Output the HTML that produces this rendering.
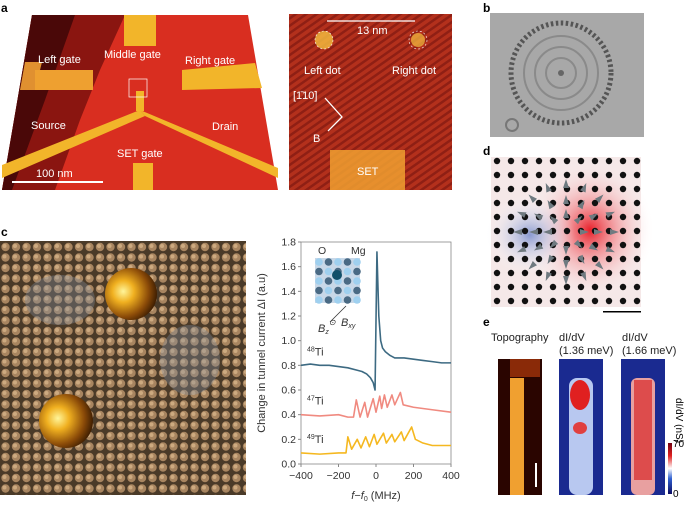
<!DOCTYPE html>
<html><head><meta charset="utf-8">
<style>
html,body{margin:0;padding:0;background:#fff;}
body{width:685px;height:507px;position:relative;overflow:hidden;font-family:"Liberation Sans",sans-serif;}
svg text{font-family:"Liberation Sans",sans-serif;}
</style></head>
<body>
<svg id="fig" width="685" height="507" viewBox="0 0 685 507" xmlns="http://www.w3.org/2000/svg">
<defs>
 <pattern id="stripes" width="6" height="6" patternUnits="userSpaceOnUse" patternTransform="rotate(-35)">
  <rect width="6" height="6" fill="#b3301c"/><rect width="6" height="2.5" fill="#8f1f14"/>
 </pattern>
 <pattern id="atoms" width="10.5" height="10.5" patternUnits="userSpaceOnUse">
  <rect width="10.5" height="10.5" fill="#4a3a28"/>
  <circle cx="5.5" cy="5.5" r="4.2" fill="#a88560"/>
  <circle cx="4.5" cy="4.5" r="2" fill="#cdaa80"/>
 </pattern>
 <pattern id="dots" width="14" height="14" patternUnits="userSpaceOnUse">
  <circle cx="7" cy="7" r="3.2" fill="#111"/>
 </pattern>
 <radialGradient id="sph" cx="0.35" cy="0.45" r="0.7">
  <stop offset="0" stop-color="#fff59a"/><stop offset="0.3" stop-color="#f0b020"/><stop offset="0.7" stop-color="#8a4a08"/><stop offset="1" stop-color="#2a1200"/>
 </radialGradient>
 <radialGradient id="redblob" cx="0.5" cy="0.5" r="0.5">
  <stop offset="0" stop-color="#e8202a"/><stop offset="1" stop-color="#fff" stop-opacity="0"/>
 </radialGradient>
 <radialGradient id="blueblob" cx="0.5" cy="0.5" r="0.5">
  <stop offset="0" stop-color="#8a9ad0"/><stop offset="1" stop-color="#fff" stop-opacity="0"/>
 </radialGradient>
 <linearGradient id="cbar" x1="0" y1="1" x2="0" y2="0">
  <stop offset="0" stop-color="#0a0a60"/><stop offset="0.3" stop-color="#3060d0"/><stop offset="0.5" stop-color="#ffffff"/><stop offset="0.75" stop-color="#e02020"/><stop offset="1" stop-color="#700010"/>
 </linearGradient>
</defs>

<!-- panel a left -->
<g>
 <text x="1" y="12" font-size="12" font-weight="bold">a</text>
 <polygon points="32,15 248,15 278,190 2,190" fill="#d92e20"/>
 <polygon points="32,15 125,15 100,70 80,120 55,190 2,190" fill="#8a1510"/>
 <polygon points="32,15 75,15 45,100 12,190 2,190" fill="#4a0808"/>
 <rect x="124" y="15" width="32" height="31" fill="#f2b52a"/>
 <polygon points="25,62 42,62 35,90 20,90" fill="#e09030"/>
 <rect x="35" y="70" width="58" height="20" fill="#eea030"/>
 <polygon points="182,70 255,63 262,88 182,90" fill="#f2b52a"/>
 <rect x="136" y="91" width="8" height="20" fill="#f2b52a"/>
 <polygon points="2,165 140,110 145,116 2,178" fill="#f2b52a"/>
 <polygon points="140,110 278,168 278,178 145,116" fill="#f2b52a"/>
 <rect x="133" y="163" width="20" height="27" fill="#f2b52a"/>
 <rect x="129" y="79" width="18" height="18" fill="none" stroke="#fff" stroke-width="0.7"/>
 <g fill="#fff" font-size="11">
  <text x="38" y="63">Left gate</text><text x="104" y="58">Middle gate</text>
  <text x="185" y="64">Right gate</text><text x="31" y="129">Source</text>
  <text x="212" y="130">Drain</text><text x="117" y="157">SET gate</text>
  <text x="36" y="177">100 nm</text>
 </g>
 <rect x="12" y="181" width="91" height="2" fill="#fff"/>
</g>

<!-- panel a right -->
<g>
 <rect x="289" y="14" width="163" height="176" fill="url(#stripes)"/>
 <rect x="330" y="150" width="75" height="40" fill="#f0a030" opacity="0.85"/>
 <circle cx="324" cy="40" r="9" fill="#f6c040" opacity="0.8"/>
 <circle cx="418" cy="40" r="7" fill="#f6c040" opacity="0.7"/>
 <circle cx="324" cy="40" r="9" fill="none" stroke="#fff" stroke-dasharray="2,2" stroke-width="0.6"/>
 <circle cx="418" cy="40" r="9" fill="none" stroke="#fff" stroke-dasharray="2,2" stroke-width="0.6"/>
 <line x1="327" y1="21" x2="415" y2="21" stroke="#fff" stroke-width="1.2"/>
 <g fill="#fff" font-size="11">
  <text x="357" y="34">13 nm</text><text x="304" y="74">Left dot</text>
  <text x="392" y="74">Right dot</text><text x="293" y="99">[1̄10]</text>
  <text x="313" y="142">B</text><text x="357" y="175">SET</text>
 </g>
 <polyline points="325,98 342,117 328,131" fill="none" stroke="#fff" stroke-width="1.3"/>
</g>

<!-- panel b -->
<g>
 <text x="483" y="12" font-size="12" font-weight="bold">b</text>
 <rect x="490" y="13" width="154" height="124" fill="#a8a8a8"/>
 <circle cx="561" cy="73" r="50" fill="none" stroke="#555" stroke-width="5" stroke-dasharray="2.5,2.5"/>
 <circle cx="561" cy="73" r="37" fill="none" stroke="#8a8a8a" stroke-width="2"/>
 <circle cx="561" cy="73" r="26" fill="none" stroke="#8a8a8a" stroke-width="2"/>
 <circle cx="561" cy="73" r="15" fill="none" stroke="#8a8a8a" stroke-width="2"/>
 <circle cx="561" cy="73" r="3" fill="#666"/>
 <circle cx="512" cy="125" r="6" fill="none" stroke="#777" stroke-width="2"/>
</g>

<!-- panel d -->
<g>
 <text x="483" y="155" font-size="12" font-weight="bold">d</text>
 <rect x="491" y="157" width="150" height="150" fill="#f5e8e8"/>
 <ellipse cx="590" cy="230" rx="65" ry="70" fill="url(#redblob)"/>
 <ellipse cx="530" cy="235" rx="45" ry="40" fill="url(#blueblob)"/>
 <rect x="491" y="157" width="150" height="150" fill="url(#dots)"/>
 <g id="cones" fill="#6f7a80"></g>
 <rect x="603" y="311" width="38" height="1.5" fill="#000"/>
</g>

<!-- panel c image -->
<g>
 <text x="1" y="236" font-size="12" font-weight="bold">c</text>
 <rect x="0" y="241" width="246" height="254" fill="url(#atoms)"/>
 <ellipse cx="60" cy="300" rx="35" ry="25" fill="#8090a0" opacity="0.35"/>
 <ellipse cx="190" cy="360" rx="30" ry="35" fill="#8090a0" opacity="0.35"/>
 <circle cx="131" cy="294" r="26" fill="url(#sph)"/>
 <circle cx="66" cy="421" r="27" fill="url(#sph)"/>
</g>

<!-- panel c chart -->
<g id="chart"></g>

<!-- panel e -->
<g>
 <text x="483" y="326" font-size="12" font-weight="bold">e</text>
 <g font-size="11" fill="#222">
  <text x="491" y="341">Topography</text>
  <text x="559" y="341">dI/dV</text><text x="559" y="354">(1.36 meV)</text>
  <text x="622" y="341">dI/dV</text><text x="622" y="354">(1.66 meV)</text>
 </g>
 <rect x="498" y="359" width="44" height="136" fill="#2a0500"/>
 <rect x="510" y="359" width="30" height="18" fill="#8a2a08"/>
 <rect x="510" y="378" width="14" height="117" fill="#f0a030"/>
 <rect x="535" y="463" width="2" height="24" fill="#fff"/>
 <rect x="559" y="359" width="44" height="136" fill="#1a2a90"/>
 <rect x="569" y="378" width="24" height="117" rx="8" fill="#b8c8f0"/>
 <ellipse cx="580" cy="395" rx="10" ry="15" fill="#e02020"/>
 <ellipse cx="580" cy="428" rx="7" ry="6" fill="#e04040"/>
 <rect x="621" y="359" width="44" height="136" fill="#1a2a90"/>
 <rect x="631" y="378" width="24" height="117" rx="6" fill="#e8a0a0"/>
 <rect x="634" y="380" width="18" height="100" fill="#d82828" opacity="0.7"/>
 <rect x="668" y="443" width="4" height="51" fill="url(#cbar)"/>
 <text x="673" y="447" font-size="10">70</text><text x="673" y="497" font-size="10">0</text>
 <text transform="translate(676,398) rotate(90)" font-size="10">dI/dV (nS)</text>
</g>
</svg>
<script>
const xVals=[-400,-350,-300,-250,-200,-150,-100,-75,-50,-30,-15,-5,5,15,25,35,50,75,100,150,200,250,300,350,400];
const ti48=[0.80,0.81,0.80,0.80,0.79,0.78,0.76,0.75,0.73,0.70,0.66,0.60,1.72,1.20,1.00,0.94,0.91,0.88,0.86,0.86,0.85,0.84,0.83,0.82,0.82];
const xOsc=[-400,-300,-200,-150,-120,-105,-85,-60,-45,-15,0,20,30,45,60,85,100,130,145,200,300,400];
const ti47=[0.40,0.39,0.40,0.38,0.38,0.52,0.38,0.50,0.38,0.53,0.42,0.55,0.45,0.56,0.46,0.56,0.48,0.58,0.48,0.46,0.44,0.42];
const xOsc2=[-400,-300,-200,-160,-150,-130,-100,-80,-55,-35,-10,5,40,55,85,100,135,150,190,210,250,300,400];
const ti49=[0.09,0.08,0.09,0.09,0.22,0.12,0.20,0.13,0.22,0.14,0.24,0.16,0.25,0.17,0.24,0.18,0.26,0.19,0.30,0.20,0.17,0.15,0.15];
const xTicks=[-400,-200,0,200,400];
const yTicks=[0.0,0.2,0.4,0.6,0.8,1.0,1.2,1.4,1.6,1.8];
const seriesLabels=['48','47','49'];

const NS='http://www.w3.org/2000/svg';
const g=document.getElementById('chart');
const X0=301,X1=451,Y0=464,Y1=242;
const xs=v=>X0+(v+400)/800*(X1-X0);
const ys=v=>Y0-v/1.8*(Y0-Y1);
function mk(t,a,p){const e=document.createElementNS(NS,t);for(const k in a)e.setAttribute(k,a[k]);(p||g).appendChild(e);return e;}

// skyrmion cones (decorative)
const cg=document.getElementById('cones');
[[14,8],[28,12],[44,16]].forEach(([r,n])=>{
 for(let i=0;i<n;i++){
  const a=i/n*Math.PI*2, cx=566+Math.cos(a)*r, cy=232+Math.sin(a)*r;
  const tx=cx+Math.cos(a)*9, ty=cy+Math.sin(a)*9;
  const px=-Math.sin(a)*3, py=Math.cos(a)*3;
  mk('polygon',{points:`${tx},${ty} ${cx+px},${cy+py} ${cx-px},${cy-py}`},cg);
 }
});

const frame=mk('rect',{x:X0,y:Y1,width:X1-X0,height:Y0-Y1,fill:'none',stroke:'#888','stroke-width':0.8});


xTicks.forEach(v=>{
 const t=mk('line',{x1:xs(v),x2:xs(v),y1:Y0,y2:Y0+3,stroke:'#888'});
 
 
 const l=mk('text',{x:xs(v),y:Y0+15,'font-size':10.5,'text-anchor':'middle',fill:'#333'});
 l.textContent=v<0?'\u2212'+(-v):String(v);
 
 
});
yTicks.forEach(v=>{
 const t=mk('line',{x1:X0-3,x2:X0,y1:ys(v),y2:ys(v),stroke:'#888'});
 
 
 const l=mk('text',{x:X0-5,y:ys(v)+3.5,'font-size':10.5,'text-anchor':'end',fill:'#333'});
 l.textContent=v.toFixed(1);
 
 
});
const xt=mk('text',{x:376,y:499,'font-size':11,'text-anchor':'middle',fill:'#333'});
xt.innerHTML='<tspan font-style="italic">f</tspan>\u2212<tspan font-style="italic">f</tspan><tspan font-size="7" dy="2">0</tspan><tspan dy="-2"> (MHz)</tspan>';


const yt=mk('text',{transform:'translate(265,353) rotate(-90)','font-size':11,'text-anchor':'middle',fill:'#333'});
yt.textContent='Change in tunnel current \u0394I (a.u)';



function line(xa,ya,color,name){
 const p=mk('polyline',{points:xa.map((x,i)=>xs(x)+','+ys(ya[i])).join(' '),fill:'none',stroke:color,'stroke-width':1.6,'stroke-linejoin':'round'});
 
 
}
line(xVals,ti48,'#3d6a82','series-48ti');
line(xOsc,ti47,'#f08a80','series-47ti');
line(xOsc2,ti49,'#f5b820','series-49ti');
[[ti48[0],0],[ti47[0],1],[ti49[0],2]].forEach(([v,i])=>{
 const l=mk('text',{x:307,y:ys(v)-10,'font-size':11,fill:'#333'});
 l.innerHTML='<tspan font-size="7" dy="-4">'+seriesLabels[i]+'</tspan><tspan dy="4">Ti</tspan>';
 
 
});
const ins=mk('g',{});


mk('rect',{x:315,y:258,width:45,height:45,fill:'#c8d8e8'},ins);
for(let r=0;r<5;r++)for(let c=0;c<5;c++){
 mk('circle',{cx:319+c*9.5,cy:262+r*9.5,r:3.8,fill:(r+c)%2?'#4a6a84':'#9fd0ef'},ins);
}
mk('circle',{cx:337,cy:275,r:5,fill:'#10506a'},ins);
mk('text',{x:318,y:254,'font-size':10.5,fill:'#333'},ins).textContent='O';
mk('text',{x:351,y:254,'font-size':10.5,fill:'#333'},ins).textContent='Mg';
mk('line',{x1:330,y1:322,x2:346,y2:306,stroke:'#333','stroke-width':0.8},ins);
const bz=mk('text',{x:318,y:332,'font-size':11,'font-style':'italic',fill:'#333'},ins);
bz.innerHTML='B<tspan font-size="7" dy="2">z</tspan><tspan font-size="8" dy="-9">\u2299</tspan>';
const bxy=mk('text',{x:341,y:326,'font-size':11,'font-style':'italic',fill:'#333'},ins);
bxy.innerHTML='B<tspan font-size="7" dy="2">xy</tspan>';
</script>
</body></html>
